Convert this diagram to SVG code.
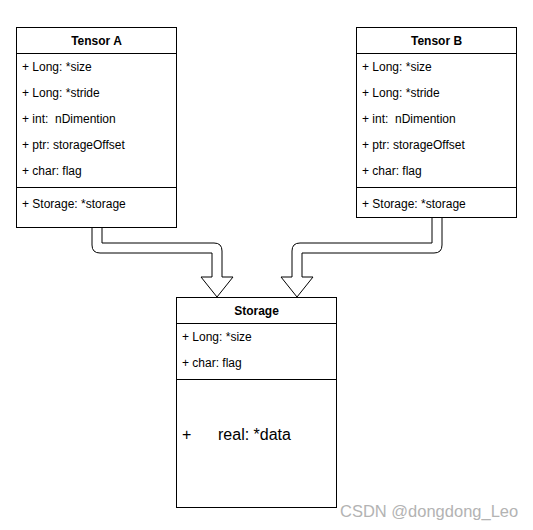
<svg xmlns="http://www.w3.org/2000/svg" width="533" height="530" viewBox="0 0 533 530">
<style>
.box{fill:#fff;stroke:#000;stroke-width:1}
.ln{stroke:#000;stroke-width:1;fill:none}
.t{font-family:"Liberation Sans",Arial,sans-serif;font-size:12px;fill:#000}
.h{font-family:"Liberation Sans",Arial,sans-serif;font-size:12px;font-weight:bold;fill:#000;text-anchor:middle}
.big{font-family:"Liberation Sans",Arial,sans-serif;font-size:16px;fill:#000}
.arr{fill:#fff;stroke:#000;stroke-width:1;stroke-linejoin:miter}
.wm{font-family:"Liberation Sans",Arial,sans-serif;font-size:16.5px;fill:#b3b3b3}
</style>
<rect width="533" height="530" fill="#fff"/>
<g id="connectors">
<path class="arr" d="M 92 227 L 92 245 Q 92 253 100 253 L 212 253 L 212 277 L 201 277 L 217 297 L 233 277 L 222 277 L 222 251 Q 222 243 214 243 L 102 243 L 102 227 Z"/>
<path class="arr" d="M 442 217 L 442 245 Q 442 253 434 253 L 302 253 L 302 277 L 313 277 L 297 297 L 281 277 L 292 277 L 292 251 Q 292 243 300 243 L 432 243 L 432 217 Z"/>
</g>
<g id="tensorA">
<rect class="box" x="16.5" y="27.5" width="160" height="200"/>
<line class="ln" x1="16.5" y1="53.5" x2="176.5" y2="53.5"/>
<line class="ln" x1="16.5" y1="187.5" x2="176.5" y2="187.5"/>
<text class="h" x="96.5" y="45">Tensor A</text>
<text class="t" x="22" y="71">+ Long: *size</text>
<text class="t" x="22" y="97">+ Long: *stride</text>
<text class="t" x="22" y="123" xml:space="preserve">+ int:  nDimention</text>
<text class="t" x="22" y="149">+ ptr: storageOffset</text>
<text class="t" x="22" y="175">+ char: flag</text>
<text class="t" x="22" y="208">+ Storage: *storage</text>
</g>
<g id="tensorB">
<rect class="box" x="356.5" y="27.5" width="160" height="190"/>
<line class="ln" x1="356.5" y1="53.5" x2="516.5" y2="53.5"/>
<line class="ln" x1="356.5" y1="187.5" x2="516.5" y2="187.5"/>
<text class="h" x="436.5" y="45">Tensor B</text>
<text class="t" x="362" y="71">+ Long: *size</text>
<text class="t" x="362" y="97">+ Long: *stride</text>
<text class="t" x="362" y="123" xml:space="preserve">+ int:  nDimention</text>
<text class="t" x="362" y="149">+ ptr: storageOffset</text>
<text class="t" x="362" y="175">+ char: flag</text>
<text class="t" x="362" y="208">+ Storage: *storage</text>
</g>
<g id="storage">
<rect class="box" x="176.5" y="297.5" width="160" height="210"/>
<line class="ln" x1="176.5" y1="323.5" x2="336.5" y2="323.5"/>
<line class="ln" x1="176.5" y1="379.5" x2="336.5" y2="379.5"/>
<text class="h" x="256.5" y="315">Storage</text>
<text class="t" x="182" y="341">+ Long: *size</text>
<text class="t" x="182" y="367">+ char: flag</text>
<text class="big" x="182" y="440">+<tspan x="218">real: *data</tspan></text>
</g>
<text class="wm" x="340" y="517">CSDN @dongdong_Leo</text>
</svg>
